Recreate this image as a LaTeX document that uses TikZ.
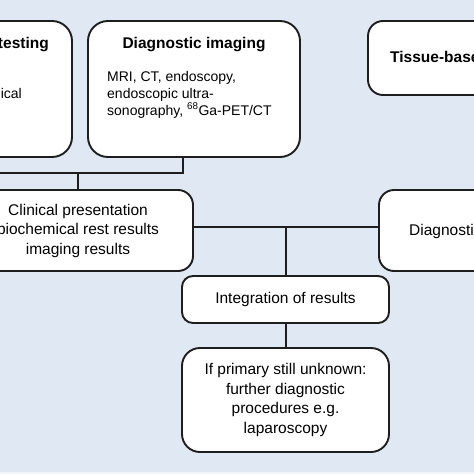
\documentclass[tikz,border=0pt]{standalone}
\usepackage{fontspec}
\setmainfont{Liberation Sans}
\definecolor{bg}{HTML}{DFE8F3}
\definecolor{ln}{HTML}{1E1E1E}
\begin{document}
\begin{tikzpicture}[x=1pt,y=-1pt,
  box/.style={draw=ln, line width=1.9pt, fill=white, rounded corners=15pt, inner sep=0pt, align=center, font=\fontsize{15.5}{19.5}\selectfont},
  conn/.style={draw=ln, line width=2pt},
  ttl/.style={font=\bfseries\fontsize{15.5}{19}\selectfont, inner sep=0pt},
  body/.style={font=\fontsize{14}{17}\selectfont, inner sep=0pt},
  txt/.style={font=\fontsize{15.5}{19.5}\selectfont, inner sep=0pt}]
\useasboundingbox (0,0) rectangle (474,474);
\clip (0,0) rectangle (474,474);
\fill[bg] (0,0) rectangle (474,474);
\fill[white!55!bg] (0,472) rectangle (474,474);
% boxes
\node[box, rounded corners=20pt, minimum width=222pt, minimum height=136pt] (test) at (-39,89) {};
\node[box, rounded corners=20pt, minimum width=212pt, minimum height=136pt] (img) at (194,89) {};
\node[box, minimum width=232pt, minimum height=74pt] (tis) at (484,58) {};
\node[box, minimum width=230pt, minimum height=81pt] (clin) at (78,230.5) {Clinical presentation\\biochemical rest results\\imaging results};
\node[box, minimum width=221pt, minimum height=81pt] (diag) at (489.5,230.5) {};
\node[box, rounded corners=11pt, minimum width=207pt, minimum height=47pt] (integ) at (285.5,299.5) {Integration of results};
\node[box, rounded corners=18pt, minimum width=207pt, minimum height=104pt] (final) at (285.5,400) {If primary still unknown:\\further diagnostic\\procedures e.g.\\laparoscopy};
% texts
\node[ttl, anchor=base east] (testT) at (49,48) {testing};
\node[body, anchor=base east] (testB) at (22,98) {ical};
\node[ttl, anchor=base] (imgT) at (194,48) {Diagnostic imaging};
\node[body, anchor=base west] (imgB1) at (107,81) {MRI, CT, endoscopy,};
\node[body, anchor=base west] (imgB2) at (107,98) {endoscopic ultra-};
\node[body, anchor=base west] (imgB3) at (107,115) {sonography, \textsuperscript{68}Ga-PET/CT};
\node[ttl, anchor=base west] (tisT) at (390,62) {Tissue-based};
\node[txt, anchor=base west] (diagT) at (409,235) {Diagnostic};
% connectors
\coordinate (jimg) at (183,173);
\coordinate (jr) at (285,227);
\draw[conn] (test.south) |- (jimg) -- (img.south -| jimg);
\draw[conn] (clin.north) -- (clin.north |- jimg);
\draw[conn] (clin.east |- jr) -- (diag.west |- jr);
\draw[conn] (integ.north |- jr) -- (integ.north);
\draw[conn] (integ.south) -- (final.north);
\end{tikzpicture}
\end{document}
